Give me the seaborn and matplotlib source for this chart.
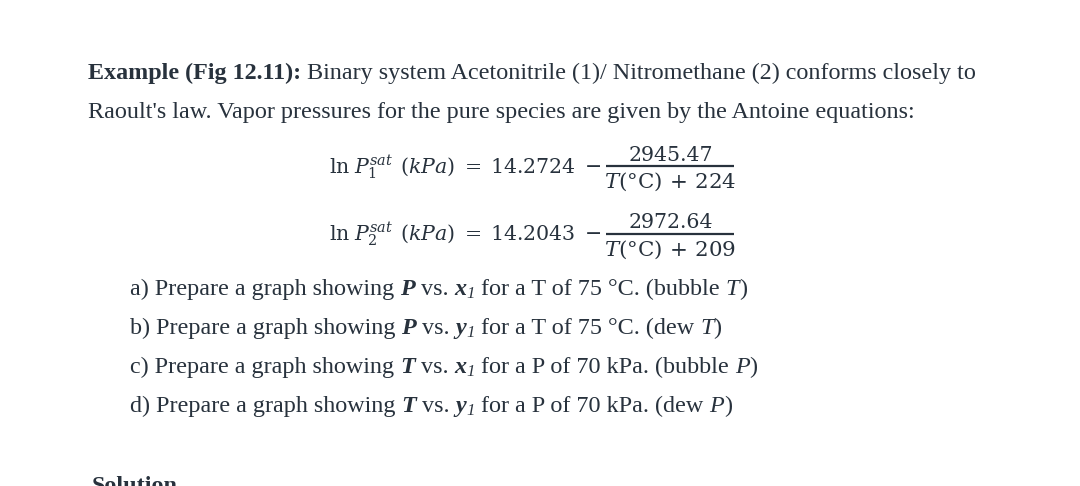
import matplotlib
matplotlib.use("Agg")
import matplotlib.pyplot as plt
import seaborn as sns

sns.set_style("white")
plt.rcParams["font.family"] = ["Liberation Serif", "DejaVu Serif"]
plt.rcParams["mathtext.fontset"] = "dejavuserif"

INK = "#28323d"
BODY = 17.4
EQ = 14.8

# texto do enunciado: cada linha e uma lista de (texto, estilo)
line1 = [("Example (Fig 12.11):", "bold"), (" Binary system Acetonitrile (1)/ Nitromethane (2) conforms closely to", "normal")]
line2 = [("Raoult's law. Vapor pressures for the pure species are given by the Antoine equations:", "normal")]
items = [
    [("a) Prepare a graph showing ", "normal"), ("P", "bolditalic"), (" vs. ", "normal"), ("x", "bolditalic"), ("1", "italicsub"),
     (" for a T of 75 °C. (bubble ", "normal"), ("T", "italic"), (")", "normal")],
    [("b) Prepare a graph showing ", "normal"), ("P", "bolditalic"), (" vs. ", "normal"), ("y", "bolditalic"), ("1", "italicsub"),
     (" for a T of 75 °C. (dew ", "normal"), ("T", "italic"), (")", "normal")],
    [("c) Prepare a graph showing ", "normal"), ("T", "bolditalic"), (" vs. ", "normal"), ("x", "bolditalic"), ("1", "italicsub"),
     (" for a P of 70 kPa. (bubble ", "normal"), ("P", "italic"), (")", "normal")],
    [("d) Prepare a graph showing ", "normal"), ("T", "bolditalic"), (" vs. ", "normal"), ("y", "bolditalic"), ("1", "italicsub"),
     (" for a P of 70 kPa. (dew ", "normal"), ("P", "italic"), (")", "normal")],
]
item_y = [295, 334, 373, 412]

eq_left = [r"$\mathrm{ln}\;P_1^{sat}\;\,(kPa)\;=\;14.2724\;-$", r"$\mathrm{ln}\;P_2^{sat}\;\,(kPa)\;=\;14.2043\;-$"]
eq_num = ["2945.47", "2972.64"]
eq_den = [r"$T(\mathrm{°C})\,+\,224$", r"$T(\mathrm{°C})\,+\,209$"]
eq_bar = [166.5, 234]

fig = plt.figure(figsize=(10.8, 4.86), dpi=100)
ax = fig.add_axes([0, 0, 1, 1])
ax.set_xlim(0, 1080)
ax.set_ylim(486, 0)
ax.axis("off")
fig.canvas.draw()
rend = fig.canvas.get_renderer()

styles = {
    "normal": dict(weight="normal", style="normal"),
    "bold": dict(weight="bold", style="normal"),
    "italic": dict(weight="normal", style="italic"),
    "bolditalic": dict(weight="bold", style="italic"),
    "italicsub": dict(weight="normal", style="italic"),
}


def put_runs(runs, x, y, size=BODY):
    for txt, st in runs:
        kw = styles[st]
        yy, fs = y, size
        if st == "italicsub":
            yy, fs = y + 3, size * 0.7
        t = ax.text(x, yy, txt, fontsize=fs, color=INK, va="baseline", ha="left", **kw)
        bb = t.get_window_extent(renderer=rend)
        x += bb.width


put_runs(line1, 88, 79)
put_runs(line2, 88, 118)
for runs, y in zip(items, item_y):
    put_runs(runs, 130, y)
put_runs([("Solution", "bold")], 92, 492)

for left, num, den, yb in zip(eq_left, eq_num, eq_den, eq_bar):
    ax.text(601, yb + 6.5, left, fontsize=EQ, color=INK, ha="right", va="baseline")
    ax.plot([606, 734], [yb, yb], color=INK, lw=1.6, solid_capstyle="butt")
    ax.text(671, yb - 6, num, fontsize=EQ, color=INK, ha="center", va="baseline", family="DejaVu Serif")
    ax.text(670, yb + 21.5, den, fontsize=EQ + 0.6, color=INK, ha="center", va="baseline")

fig.savefig("out.png", dpi=100)
